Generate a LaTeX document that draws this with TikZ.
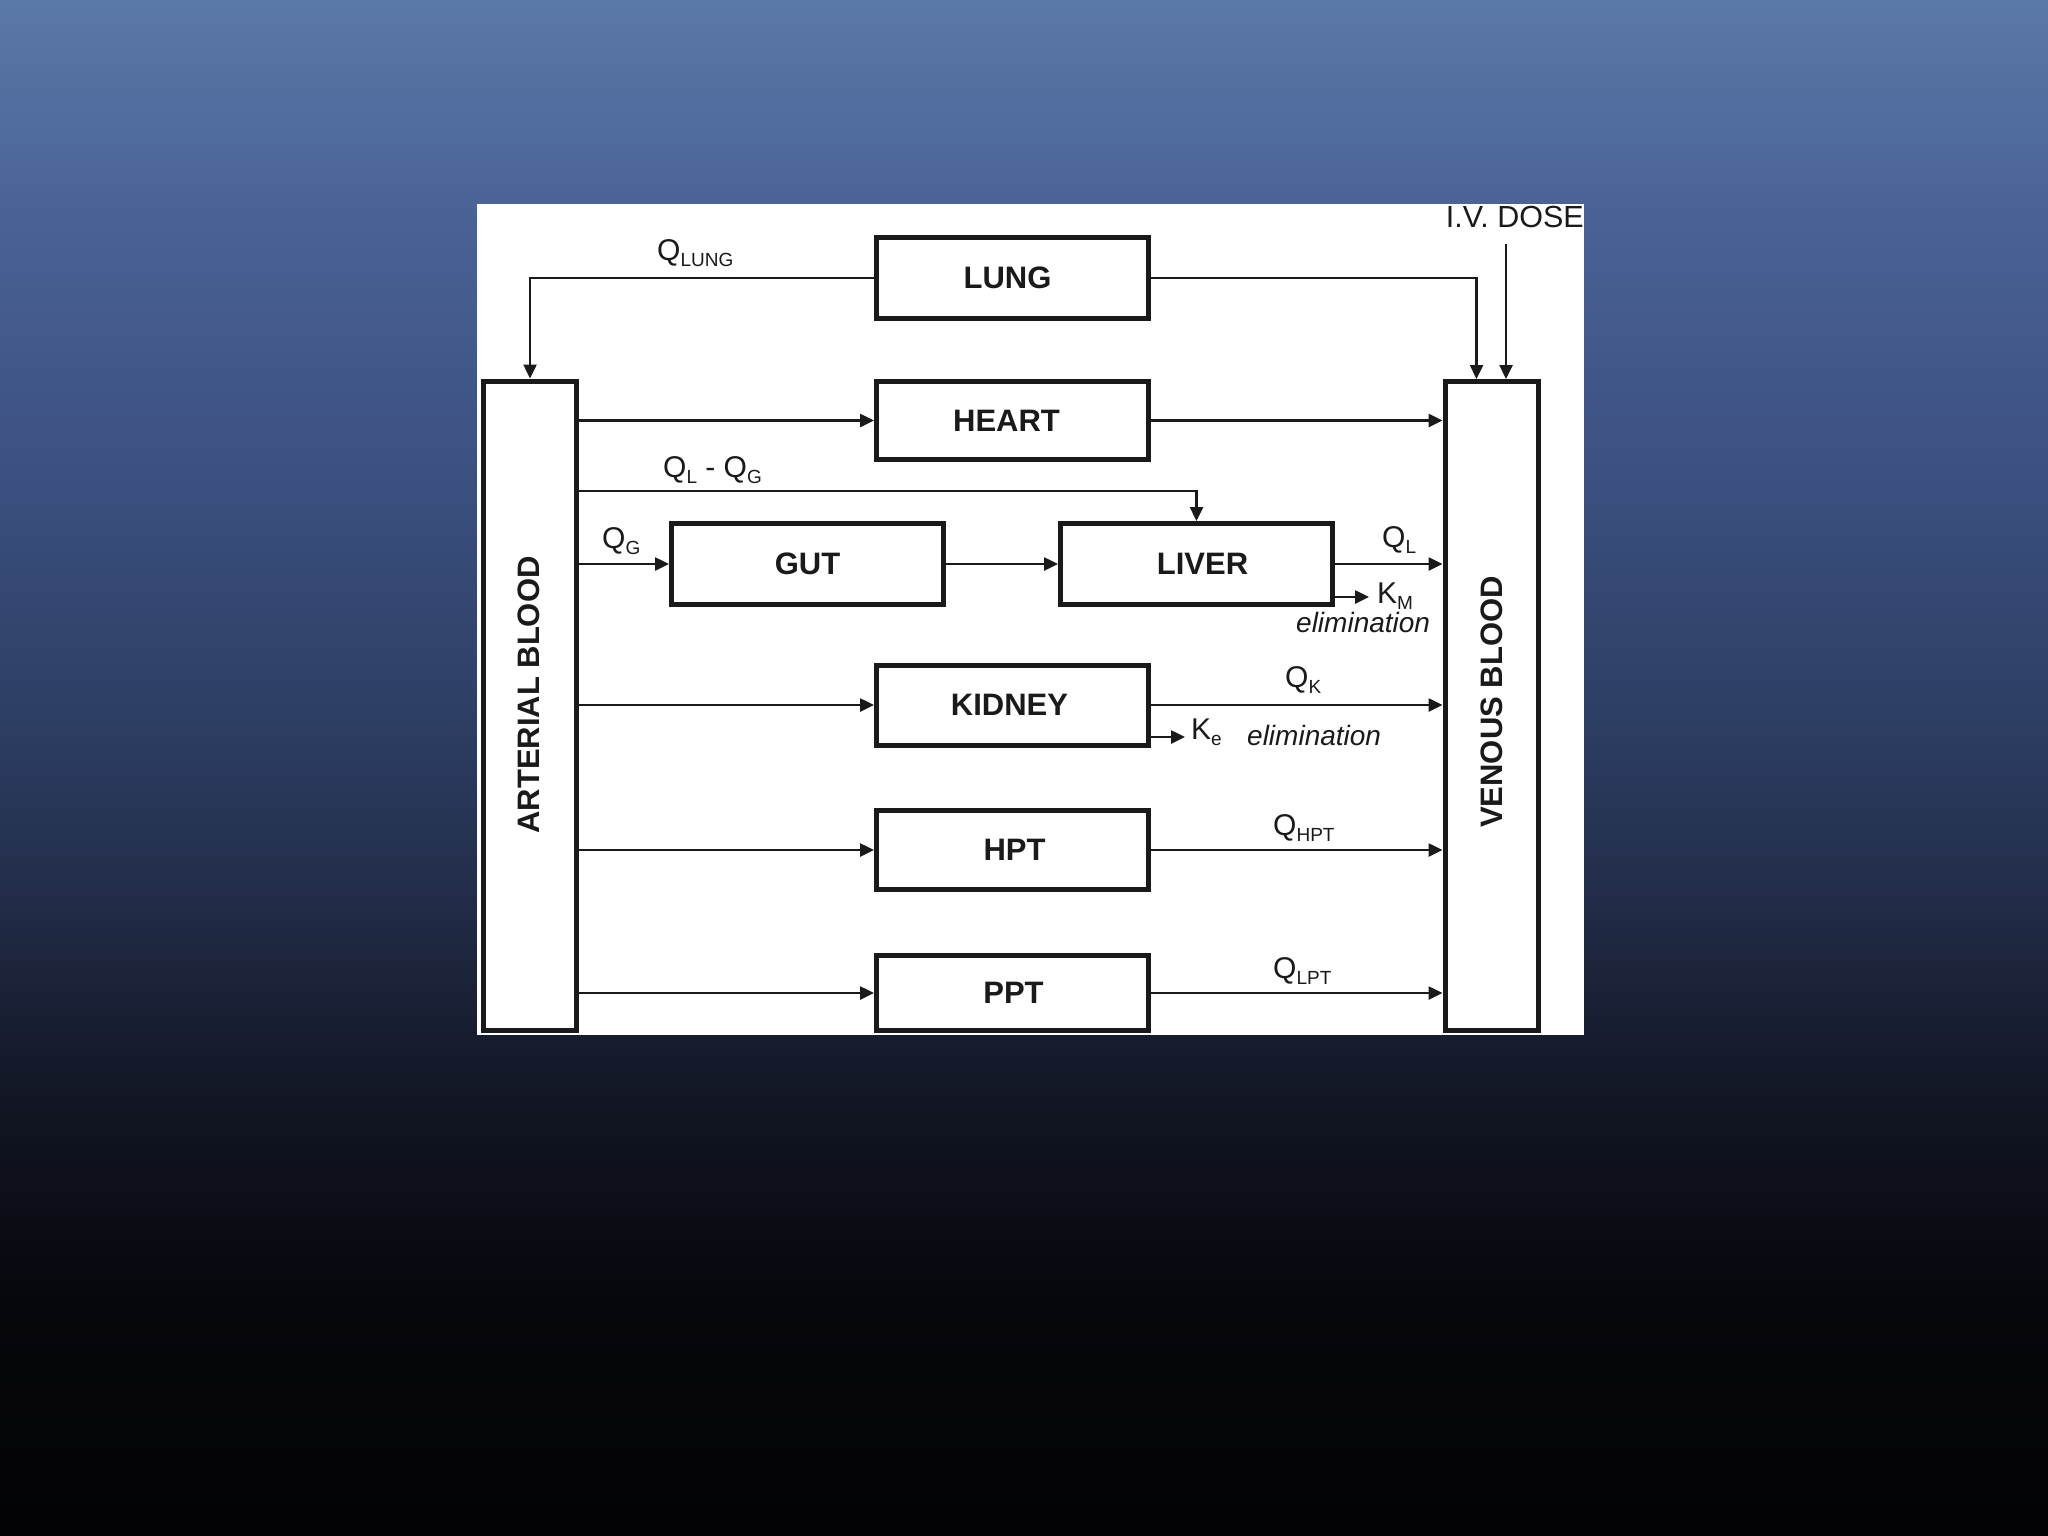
\documentclass[tikz,border=0pt]{standalone}
\usepackage{fontspec}
\setmainfont{Liberation Sans}
\usetikzlibrary{arrows.meta,calc}

\definecolor{bgA}{RGB}{90,120,168}
\definecolor{bgB}{RGB}{72,96,148}
\definecolor{bgC}{RGB}{60,80,128}
\definecolor{bgD}{RGB}{46,64,102}
\definecolor{bgE}{RGB}{34,44,72}
\definecolor{bgF}{RGB}{18,22,36}
\definecolor{bgG}{RGB}{6,7,12}
\definecolor{bgH}{RGB}{3,3,5}
\definecolor{ink}{RGB}{26,26,26}

\pgfdeclareverticalshading{bgshade}{100bp}{color(0bp)=(bgH); color(25bp)=(bgH); color(32.7bp)=(bgG); color(39.2bp)=(bgF); color(45.7bp)=(bgE); color(52.2bp)=(bgD); color(59.4bp)=(bgC); color(67.2bp)=(bgB); color(75bp)=(bgA); color(100bp)=(bgA)}

\newcommand{\qsub}[1]{\raisebox{-6pt}{\fontsize{19}{19}\selectfont #1}}

\tikzset{
  organ/.style={draw=ink, line width=5pt, fill=white, minimum width=272pt, inner sep=0pt,
    font=\fontsize{31}{31}\selectfont\bfseries, text=ink},
  blood/.style={draw=ink, line width=5pt, fill=white, minimum width=93pt, minimum height=649pt, inner sep=0pt},
  bloodtext/.style={rotate=90, font=\fontsize{31}{31}\selectfont\bfseries, text=ink, inner sep=0pt},
  arr/.style={draw=ink, line width=2.5pt, -{Triangle[length=14pt,width=13pt]}},
  flow/.style={anchor=base west, inner sep=0pt, font=\fontsize{30}{30}\selectfont, text=ink},
  elim/.style={anchor=base west, inner sep=0pt, font=\fontsize{28}{28}\selectfont\itshape, text=ink}
}

\begin{document}
\begin{tikzpicture}[x=1pt,y=-1pt]
\useasboundingbox (0,0) rectangle (2048,1536);
\shade[shading=bgshade] (0,0) rectangle (2048,1536);
\fill[white] (477,204) rectangle (1584,1035);

% blood compartments
\node[blood] (art) at (530,705.5) {};
\node[bloodtext] (arttext) at (529,695) {ARTERIAL BLOOD};
\node[blood] (ven) at (1491.5,706) {};
\node[bloodtext] (ventext) at (1492,702) {VENOUS BLOOD};

% organs
\node[organ, minimum height=81pt] (lung) at (1012.5,278) {LUNG\hspace*{10pt}};
\node[organ, minimum height=78pt] (heart) at (1012.5,420.5) {HEART\hspace*{12pt}};
\node[organ, minimum height=81pt] (gut) at (807.5,564) {GUT};
\node[organ, minimum height=81pt] (liver) at (1196.5,564) {\hspace*{12pt}LIVER};
\node[organ, minimum height=80pt] (kidney) at (1012.5,705) {KIDNEY\hspace*{6pt}};
\node[organ, minimum height=79pt] (hpt) at (1012.5,850) {\hspace*{4pt}HPT};
\node[organ, minimum height=75pt] (ppt) at (1012.5,993) {\hspace*{2pt}PPT};

% I.V. dose
\begin{scope}
\clip (477,204) rectangle (1584,1035);
\node[anchor=base east, inner sep=0pt, font=\fontsize{30.5}{30.5}\selectfont, text=ink] (ivtext) at (1584,227) {I.V. DOSE};
\end{scope}
\coordinate (ivtop) at (1506,244);
\draw[arr] (ivtop) -- (ivtop |- ven.north);

% lung
\draw[arr] (lung.west) -| (art.north);
\draw[arr] (lung.east) -| ([xshift=-15pt]ven.north);
\node[flow] (qlung) at (657,260) {Q\qsub{LUNG}};

% heart
\draw[arr] (art.east |- heart.west) -- (heart.west);
\draw[arr] (heart.east) -- (heart.east -| ven.west);

% hepatic artery
\draw[arr] (art.east |- 0,491) -| (liver.north);
\node[flow] (qlqg) at (663,477) {Q\qsub{L} - Q\qsub{G}};

% gut -> liver
\draw[arr] (art.east |- gut.west) -- (gut.west);
\node[flow] (qg) at (602,548) {Q\qsub{G}};
\draw[arr] (gut.east) -- (liver.west);

% liver -> venous
\draw[arr] (liver.east) -- (liver.east -| ven.west);
\node[flow] (ql) at (1382,547) {Q\qsub{L}};
\coordinate (kmend) at (1369,597);
\draw[arr] (liver.east |- kmend) -- (kmend);
\node[flow] (km) at (1377,603) {K\qsub{M}};
\node[elim] (elim1) at (1296,632) {elimination};

% kidney
\draw[arr] (art.east |- kidney.west) -- (kidney.west);
\draw[arr] (kidney.east) -- (kidney.east -| ven.west);
\node[flow] (qk) at (1285,687) {Q\qsub{K}};
\coordinate (keend) at (1185,737);
\draw[arr] (kidney.east |- keend) -- (keend);
\node[flow] (ke) at (1191,739) {K\qsub{e}};
\node[elim] (elim2) at (1247,745) {elimination};

% HPT
\draw[arr] (art.east |- hpt.west) -- (hpt.west);
\draw[arr] (hpt.east) -- (hpt.east -| ven.west);
\node[flow] (qhpt) at (1273,835) {Q\qsub{HPT}};

% PPT
\draw[arr] (art.east |- ppt.west) -- (ppt.west);
\draw[arr] (ppt.east) -- (ppt.east -| ven.west);
\node[flow] (qlpt) at (1273,978) {Q\qsub{LPT}};
\end{tikzpicture}
\end{document}
